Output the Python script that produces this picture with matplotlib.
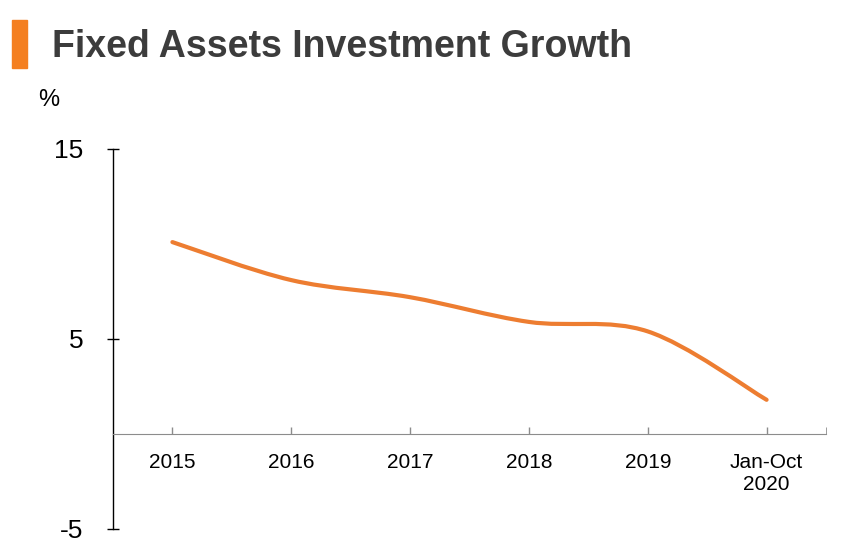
import numpy as np
import matplotlib.pyplot as plt
from matplotlib.path import Path
from matplotlib.patches import PathPatch, Rectangle

plt.rcParams['font.family'] = ['Liberation Sans', 'DejaVu Sans']
plt.rcParams['axes.unicode_minus'] = False

categories = ['2015', '2016', '2017', '2018', '2019', 'Jan-Oct\n2020']
growth = [10.1, 8.1, 7.2, 5.9, 5.4, 1.8]

ORANGE = '#ED7D31'

fig = plt.figure(figsize=(8.41, 5.59), dpi=100)
ax = fig.add_axes([113 / 841, 1 - 529 / 559, (826 - 113) / 841, (529 - 149) / 559])

# smoothed line like Excel (cubic bezier, catmull-rom style control points)
x = np.arange(len(growth), dtype=float)
y = np.array(growth, dtype=float)
pts = np.column_stack([x, y])
verts = [pts[0]]
codes = [Path.MOVETO]
for i in range(len(pts) - 1):
    p0 = pts[i - 1] if i > 0 else pts[i]
    p1 = pts[i]
    p2 = pts[i + 1]
    p3 = pts[i + 2] if i + 2 < len(pts) else pts[i + 1]
    c1 = p1 + (p2 - p0) / 6
    c2 = p2 - (p3 - p1) / 6
    verts += [c1, c2, p2]
    codes += [Path.CURVE4] * 3
ax.add_patch(PathPatch(Path(verts, codes), fill=False, edgecolor=ORANGE,
                       lw=3, capstyle='round', zorder=3))

ax.set_xlim(-0.5, len(categories) - 0.5)
ax.set_ylim(-5, 15)
ax.set_yticks([-5, 5, 15])
ax.set_xticks(x)
ax.set_xticklabels(categories)

for s in ['top', 'right']:
    ax.spines[s].set_visible(False)
ax.spines['bottom'].set_position(('data', 0))
ax.spines['bottom'].set_color('#8c8c8c')
ax.spines['left'].set_color('black')
ax.spines['left'].set_linewidth(1)

ax.tick_params(axis='y', direction='inout', length=9, width=1, labelsize=19, pad=17)
ax.tick_params(axis='x', direction='in', length=5, width=1, color='#8c8c8c',
               labelsize=15, pad=14)
ax.set_xticks([len(categories) - 0.5], minor=True)
ax.tick_params(axis='x', which='minor', direction='in', length=5, color='#8c8c8c')

fig.text(38 / 841, 1 - 100 / 559, '%', fontsize=17, va='center', ha='left')
fig.patches.append(Rectangle((12 / 841, 1 - 68 / 559), 15 / 841, 48 / 559,
                             transform=fig.transFigure, color='#F47F20'))
fig.text(52 / 841, 1 - 47 / 559, 'Fixed Assets Investment Growth', fontsize=27,
         fontweight='bold', color='#3c3c3c', va='center', ha='left')

fig.savefig('out.png', dpi=100)
